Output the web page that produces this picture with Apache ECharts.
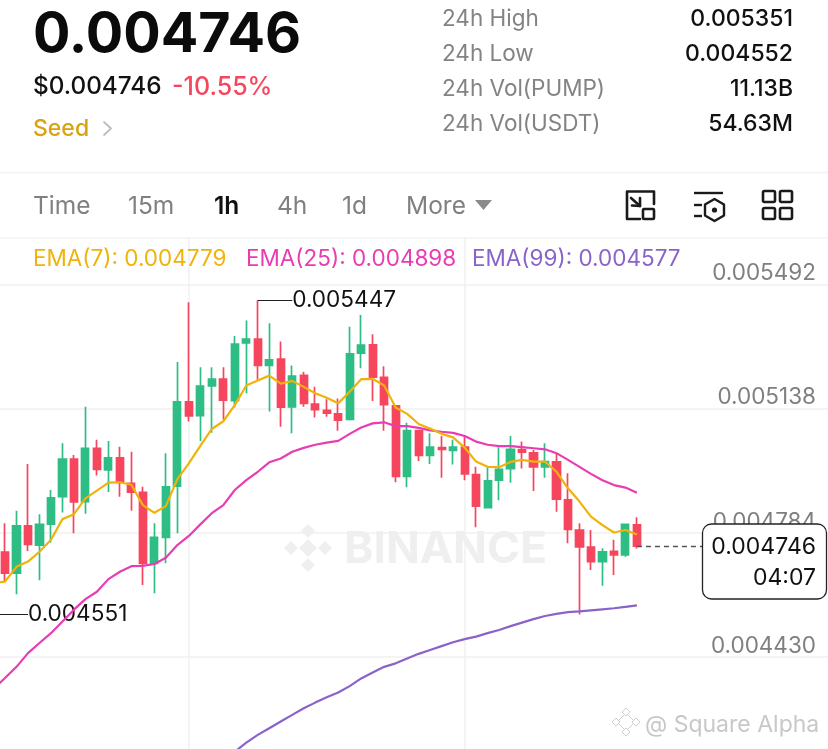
<!DOCTYPE html>
<html><head><meta charset="utf-8">
<style>html,body{margin:0;padding:0;background:#fff;overflow:hidden;width:828px;height:749px;position:relative}#c{position:absolute;left:-20px;top:0;width:868px;height:749px}</style>
<script src="https://cdn.jsdelivr.net/npm/echarts@6/dist/echarts.min.js"></script>
</head><body><div id="c"></div>
<script>
// open, close, low, high
const candles = [
[0.004729,0.004669,0.004645,0.004811],[0.004669,0.004804,0.004609,0.004847],[0.004804,0.004751,0.004732,0.004980],[0.004749,0.004808,0.004649,0.004837],
[0.004809,0.004884,0.004756,0.004906],[0.004887,0.004994,0.004842,0.005039],[0.004994,0.004872,0.004783,0.005006],[0.004873,0.005025,0.004838,0.005143],
[0.005025,0.004965,0.004947,0.005049],[0.004963,0.004998,0.004900,0.005046],[0.004998,0.004928,0.004887,0.005029],[0.004925,0.004900,0.004847,0.005015],
[0.004899,0.004697,0.004635,0.004915],[0.004697,0.004771,0.004612,0.004811],[0.004771,0.004915,0.004697,0.005011],[0.004917,0.005157,0.004783,0.005271],
[0.005157,0.005117,0.005101,0.005441],[0.005118,0.005202,0.005046,0.005256],[0.005203,0.005222,0.005069,0.005256],[0.005222,0.005162,0.005106,0.005256],
[0.005161,0.005322,0.005141,0.005345],[0.005325,0.005336,0.005182,0.005389],[0.005336,0.005261,0.005220,0.005447],[0.005261,0.005277,0.005130,0.005381],
[0.005279,0.005142,0.005086,0.005329],[0.005143,0.005231,0.005068,0.005261],[0.005233,0.005153,0.005143,0.005243],[0.005151,0.005135,0.005113,0.005200],
[0.005133,0.005125,0.005115,0.005165],[0.005123,0.005105,0.005075,0.005167],[0.005107,0.005294,0.005104,0.005371],[0.005296,0.005319,0.005253,0.005405],
[0.005320,0.005228,0.005160,0.005350],[0.005227,0.005149,0.005075,0.005259],[0.005146,0.004945,0.004928,0.005146],[0.004945,0.005075,0.004914,0.005098],
[0.005075,0.005005,0.004989,0.005075],[0.005005,0.005028,0.004980,0.005068],[0.005027,0.005022,0.004941,0.005060],[0.005019,0.005028,0.004979,0.005049],
[0.005028,0.004952,0.004934,0.005063],[0.004950,0.004860,0.004800,0.004972],[0.004856,0.004932,0.004853,0.004972],[0.004934,0.004965,0.004877,0.005028],
[0.004967,0.005022,0.004927,0.005060],[0.005021,0.005014,0.004967,0.005044],[0.005012,0.004972,0.004903,0.005020],[0.004972,0.004987,0.004941,0.005039],
[0.004986,0.004880,0.004844,0.005009],[0.004878,0.004794,0.004754,0.004954],[0.004792,0.004744,0.004551,0.004811],[0.004743,0.004702,0.004678,0.004792],
[0.004702,0.004730,0.004633,0.004740],[0.004731,0.004721,0.004664,0.004764],[0.004721,0.004808,0.004716,0.004810],[0.004807,0.004746,0.004739,0.004828]
];
const ema7 = [0.004641,0.004645,0.004687,0.004702,0.004730,0.004764,0.004823,0.004837,0.004882,0.004904,0.004927,0.004928,0.004921,0.004863,0.004841,0.004860,0.004937,0.004982,0.005032,0.005080,0.005102,0.005148,0.005204,0.005218,0.005232,0.005209,0.005217,0.005200,0.005182,0.005169,0.005153,0.005186,0.005222,0.005223,0.005204,0.005141,0.005123,0.005094,0.005081,0.005066,0.005056,0.005027,0.004987,0.004972,0.004971,0.004986,0.004992,0.004987,0.004987,0.004958,0.004911,0.004873,0.004830,0.004806,0.004785,0.004792,0.004779];
const ema25 = [0.004339,0.004370,0.004402,0.004441,0.004470,0.004498,0.004531,0.004565,0.004595,0.004616,0.004652,0.004673,0.004689,0.004690,0.004695,0.004713,0.004749,0.004775,0.004808,0.004840,0.004863,0.004906,0.004934,0.004958,0.004985,0.004996,0.005015,0.005026,0.005035,0.005041,0.005046,0.005066,0.005084,0.005096,0.005099,0.005088,0.005088,0.005083,0.005076,0.005072,0.005069,0.005060,0.005044,0.005035,0.005031,0.005031,0.005028,0.005025,0.005022,0.005011,0.004992,0.004972,0.004952,0.004934,0.004920,0.004913,0.004898];
const ema99 = [null,null,null,null,null,null,null,null,null,null,null,null,null,null,null,null,null,null,null,null,0.004136,0.004160,0.004186,0.004208,0.004227,0.004246,0.004265,0.004284,0.004300,0.004315,0.004329,0.004347,0.004369,0.004386,0.004402,0.004412,0.004426,0.004439,0.004450,0.004461,0.004472,0.004481,0.004488,0.004498,0.004507,0.004518,0.004528,0.004538,0.004547,0.004553,0.004558,0.004560,0.004563,0.004566,0.004569,0.004573,0.004577];
const yTicks = [0.005492,0.005138,0.004784,0.004430];
const dayLines = [17,41]; // hourly slots that start a new day
const highMark = {slot:23, to:26, value:0.005447, text:'0.005447'};
const lowMark  = {slot:0, to:3, value:0.004551, text:'0.004551'};
const lastPrice = 0.004746;
const statRows = [['24h High','0.005351'],['24h Low','0.004552'],['24h Vol(PUMP)','11.13B'],['24h Vol(USDT)','54.63M']];
const tabs = [['Time',33,0],['15m',128,0],['1h',214,1],['4h',277,0],['1d',342,0],['More',406,0]];
const legends = [['EMA(7): 0.004779',33,'#EFB30A'],['EMA(25): 0.004898',246,'#E83DB2'],['EMA(99): 0.004577',472,'#8A63C8']];

const SLOTS = 74;
const categories = Array.from({length:SLOTS},(_,i)=>'h'+i);
const candleData = [['-','-','-','-']].concat(candles); // slot 0 lies off the left edge
const FONT = 'Inter';
const UP='#2EBD85', DOWN='#F6465D';

const T=(x,y,text,size,fill,extra)=>({type:'text',x,y,z:50,style:Object.assign({text,fontSize:size,fill,fontFamily:FONT,textVerticalAlign:'middle',verticalAlign:'middle'},extra||{})});
const stroke=(c,w)=>({stroke:c,lineWidth:w,fill:null,lineCap:'round',lineJoin:'round'});
const L=(x1,y1,x2,y2,c,w,z)=>({type:'line',z:z||50,shape:{x1,y1,x2,y2},style:{stroke:c,lineWidth:w}});

const g=[];
g.push(T(33,35,'0.004746',55.6,'#0b0b0b',{fontWeight:700}));
g.push(T(33,87,'$0.004746',24.3,'#111',{fontWeight:500}));
g.push(T(172,87,'-10.55%',25,DOWN,{fontWeight:500}));
g.push(T(33,129,'Seed',23,'#D9A30F',{fontWeight:500}));
g.push({type:'polyline',z:50,shape:{points:[[104,122],[111,128.5],[104,135]]},style:stroke('#bdbdbd',1.8)});
statRows.forEach((r,i)=>{const y=19+35*i;
  g.push(T(442,y,r[0],22.5,'#838383'));
  g.push(T(793,y,r[1],23,'#111',{textAlign:'right',align:'right',fontWeight:500}));});
g.push(L(0,172.5,828,172.5,'#f3f3f3',1.5));
g.push(L(0,238,828,238,'#f3f3f3',1.5));
tabs.forEach(t=>g.push(T(t[1],207,t[0],24.5,t[2]?'#111':'#808080',t[2]?{fontWeight:600}:{})));
g.push({type:'polygon',z:50,shape:{points:[[475,200],[492,200],[483.5,210]]},style:{fill:'#8a8a8a'}});
legends.forEach(l=>g.push(T(l[1],259,l[0],22.5,l[2])));
// toolbar icons
const ic=stroke('#1a1a1a',2.6);
g.push({type:'polyline',z:50,shape:{points:[[640,219],[627,219],[627,191.5],[654,191.5],[654,204]]},style:ic});
g.push({type:'rect',z:50,shape:{x:643,y:209,width:11,height:10,r:1},style:ic});
g.push({type:'polyline',z:50,shape:{points:[[631,198],[640,206]]},style:ic});
g.push({type:'polyline',z:50,shape:{points:[[632,205.5],[640,206],[640,198]]},style:ic});
g.push(L(694,193,723,193,'#1a1a1a',2.4));g.push(L(694,205,702,205,'#1a1a1a',2.4));g.push(L(694,216,702,216,'#1a1a1a',2.4));
g.push({type:'polygon',z:50,shape:{points:[[714.5,199],[724,204.5],[724,215.5],[714.5,221],[705,215.5],[705,204.5]]},style:stroke('#1a1a1a',2.4)});
g.push({type:'circle',z:50,shape:{cx:714.5,cy:210,r:2.6},style:{fill:'#1a1a1a'}});
[[763,191],[780,191],[763,208],[780,208]].forEach(p=>g.push({type:'rect',z:50,shape:{x:p[0],y:p[1],width:12,height:11,r:1.5},style:stroke('#1a1a1a',2.6)}));
// watermark
const wm='#efefef';
g.push(T(344,550,'BINANCE',44.5,wm,{fontWeight:700}));g[g.length-1].z=1;
[[308,548,9],[291,548,7],[325,548,7],[308,531,7],[308,565,7]].forEach(d=>g.push({type:'polygon',z:1,shape:{points:[[d[0],d[1]-d[2]],[d[0]+d[2],d[1]],[d[0],d[1]+d[2]],[d[0]-d[2],d[1]]]},style:{fill:wm}}));
// value callout
g.push({type:'rect',z:40,shape:{x:702.5,y:524,width:124,height:75,r:9},style:{fill:'#fff',stroke:'#222',lineWidth:1.3}});
g.push(T(816,547.5,'0.004746',23,'#111',{textAlign:'right',align:'right'}));
g.push(T(816,578,'04:07',23,'#111',{textAlign:'right',align:'right'}));
// corner mark
[[626,722,9],[616,722,4],[636,722,4],[626,712,4],[626,732,4]].forEach(d=>g.push({type:'polygon',z:60,shape:{points:[[d[0],d[1]-d[2]],[d[0]+d[2],d[1]],[d[0],d[1]+d[2]],[d[0]-d[2],d[1]]]},style:{fill:'#fff',stroke:'#cfcfcf',lineWidth:1}}));
g.push(T(645,725,'@ Square Alpha',23,'#c8c8c8'));

const chart=echarts.init(document.getElementById('c'),null,{renderer:'canvas'});
const markLabel={show:true,position:'end',distance:0,fontSize:22.6,fontFamily:FONT,color:'#111',padding:[4,0,0,0]};
chart.setOption({
  animation:false,
  backgroundColor:'#fff',
  graphic:[{type:'group',x:20,y:0,children:g}],
  grid:{left:7.77,right:10,top:238,bottom:0},
  xAxis:{type:'category',data:categories,boundaryGap:true,axisLine:{show:false},axisTick:{show:false},axisLabel:{show:false},splitLine:{show:false}},
  yAxis:{type:'value',position:'right',min:0.0041678,max:0.0056243,
    axisLine:{show:false},
    axisTick:{show:false,customValues:yTicks},
    splitLine:{show:true,lineStyle:{color:'#f1f1f1',width:1.5}},
    axisLabel:{inside:true,customValues:yTicks,margin:22,verticalAlign:'bottom',color:'#7f7f7f',fontSize:22.5,fontFamily:FONT,lineHeight:22,formatter:v=>v.toFixed(6)}},
  series:[
    {type:'line',z:1,silent:true,data:[],showSymbol:false,
     markLine:{z:1,silent:true,symbol:'none',animation:false,
       data:dayLines.map(s=>({xAxis:categories[s],lineStyle:{color:'#f1f1f1',width:1.5,type:'solid'},label:{show:false}}))
        .concat([[{coord:[categories[lowMark.slot],lowMark.value],lineStyle:{color:'#222',width:1.2,type:'solid'}},{coord:[categories[lowMark.to],lowMark.value],label:Object.assign({},markLabel,{formatter:lowMark.text})}]])}},
    {type:'candlestick',z:3,data:candleData,barWidth:7.6,
     itemStyle:{color:UP,color0:DOWN,borderColor:UP,borderColor0:DOWN,borderWidth:1.7}},
    {type:'line',z:4,data:ema99,showSymbol:false,lineStyle:{color:'#8A63C8',width:2.2}},
    {type:'line',z:5,data:ema25,showSymbol:false,lineStyle:{color:'#E83DB2',width:2.2}},
    {type:'line',z:6,data:ema7,showSymbol:false,lineStyle:{color:'#EFB30A',width:2.2},
     markLine:{z:7,silent:true,symbol:'none',animation:false,
       data:[[{coord:[categories[highMark.slot],highMark.value],lineStyle:{color:'#222',width:1.2,type:'solid'}},{coord:[categories[highMark.to],highMark.value],label:Object.assign({},markLabel,{formatter:highMark.text})}],
             [{coord:[categories[56],lastPrice],lineStyle:{color:'#555',width:1.3,type:[5,4]}},{coord:[categories[62],lastPrice],label:{show:false}}]]}}
  ]
});
</script></body></html>
